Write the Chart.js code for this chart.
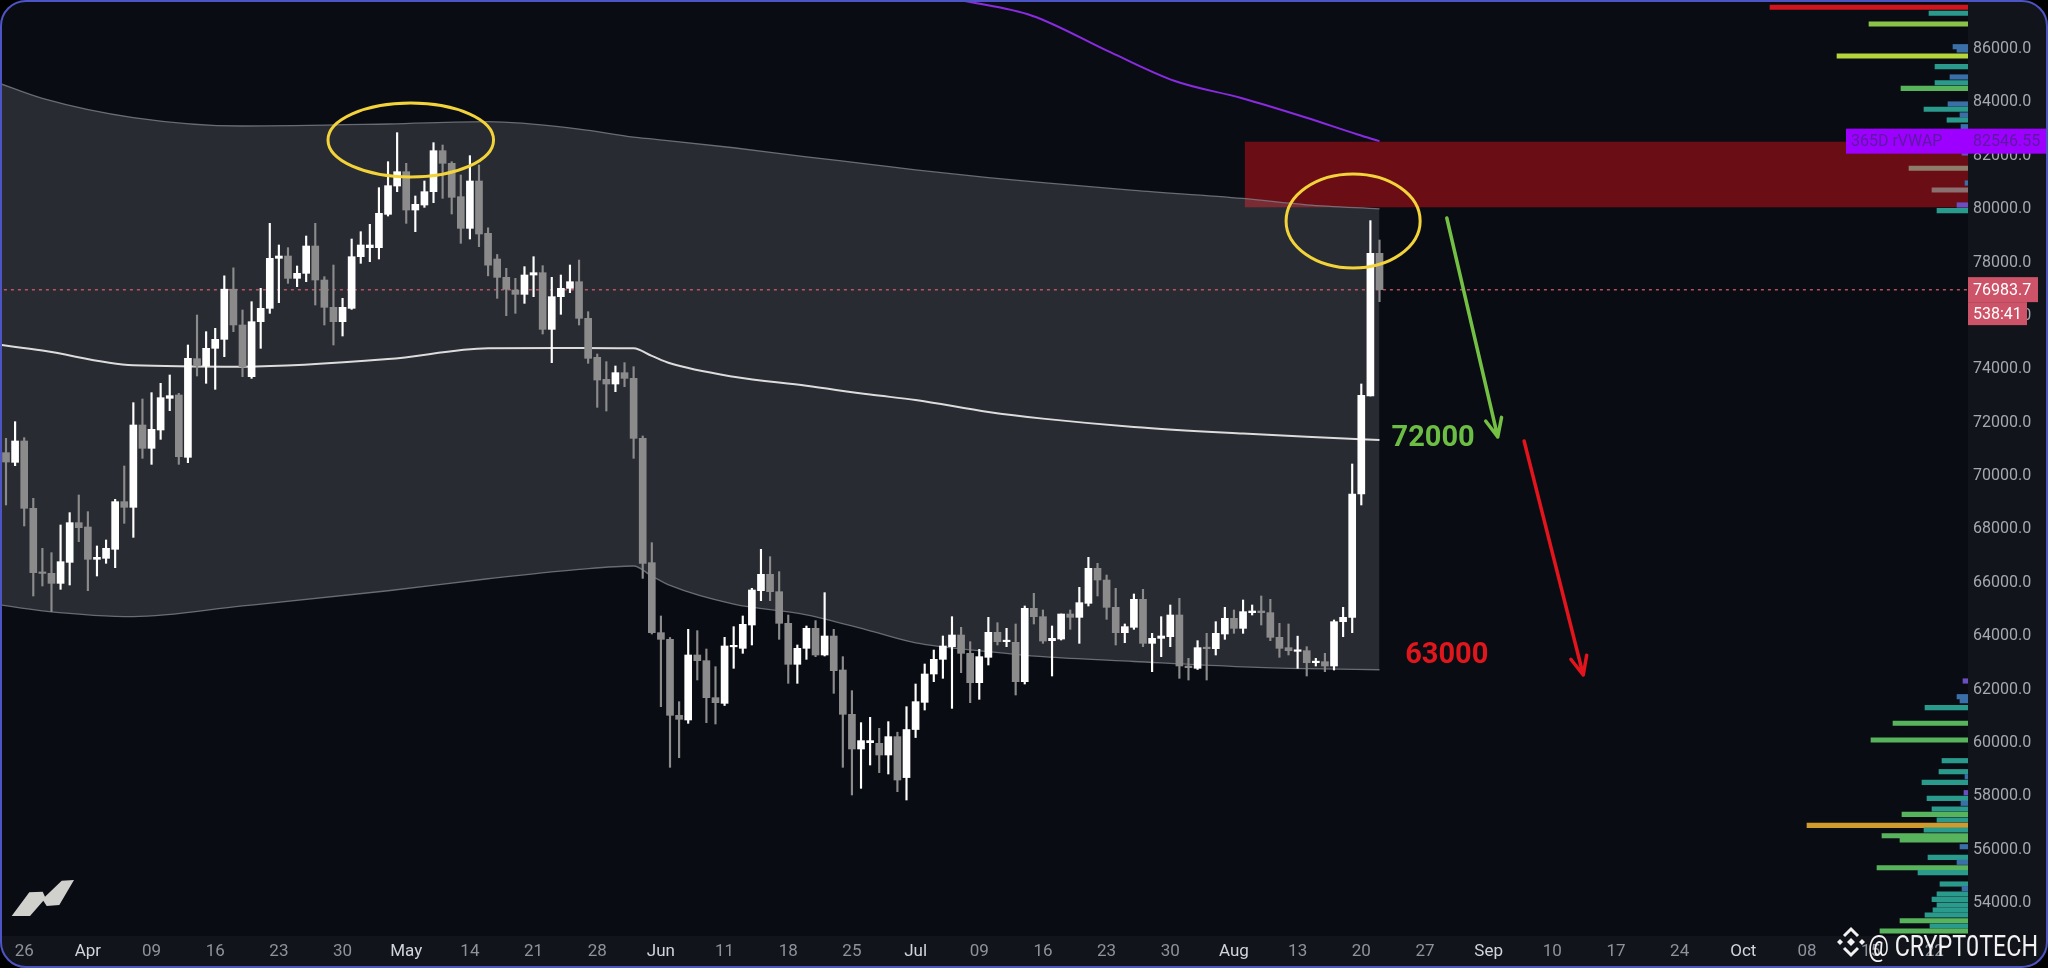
<!DOCTYPE html>
<html>
<head>
<meta charset="utf-8">
<script src="https://cdn.jsdelivr.net/npm/chart.js@4.4.1/dist/chart.umd.min.js"></script>
<style>
  html, body { margin: 0; padding: 0; background: #000; }
  .wrap { position: relative; width: 2048px; height: 968px; overflow: hidden; }
  canvas { display: block; }
  .frame {
    position: absolute; inset: 0;
    border: 2px solid #4d54c4; border-radius: 26px;
    box-shadow: 0 0 0 40px #000; pointer-events: none;
  }
</style>
</head>
<body>
<div class="wrap">
  <canvas id="chart" width="2048" height="968"></canvas>
  <div class="frame"></div>
</div>
<script>
// daily candles, index 0 = Mar 24
const opens = [
  70875, 70512, 71312, 68789, 66400, 66353, 65978, 66765, 68252, 68089,
  66878, 66915, 67253, 69039, 68826, 71911, 71037, 71724, 72910, 73035,
  70700, 74397, 74122, 74784, 75121, 77000, 75658, 73722, 75783, 76283,
  78156, 78243, 77406, 77594, 78618, 77344, 76320, 75783, 76283, 78218,
  78556, 78556, 79805, 80866, 81403, 79967, 80154, 80654, 82190, 81716,
  80467, 79280, 81054, 79093, 78131, 77444, 76969, 76807, 77531, 77619,
  75495, 76720, 77032, 77281, 75908, 74447, 73622, 73447, 73872, 73659,
  71411, 66753, 64130, 63880, 61033, 60858, 63293, 63081, 61695, 61482,
  63600, 63543, 64417, 65704, 66316, 65666, 64480, 62944, 63543, 64293,
  63293, 64005, 62731, 61070, 59771, 60009, 59983, 59546, 60234, 58700,
  60500, 61519, 62581, 63131, 63605, 64042, 63355, 62256, 63206, 64142,
  63792, 63767, 62294, 65041, 64729, 63830, 63892, 64829, 64704, 65229,
  66540, 66103, 65079, 64130, 64330, 65379, 63730, 63917, 63980, 64792,
  62881, 62794, 63568, 63530, 64080, 64667, 64292, 64880, 64942, 64880,
  63955, 63568, 63431, 63456, 63006, 63043, 62881, 64542, 64704, 69326,
  72998, 78344
]
const highs = [
  71412, 72036, 71437, 69164, 67290, 67128, 68164, 68627, 69289, 68664,
  67378, 67602, 69127, 70375, 72748, 72886, 73123, 73473, 73785, 73098,
  74909, 76033, 75408, 75533, 77500, 77800, 76220, 76532, 77032, 79467,
  78656, 78556, 77869, 78993, 79467, 77469, 77906, 76657, 78880, 79155,
  79430, 80804, 81778, 82865, 81716, 80492, 81054, 82490, 82403, 81778,
  81279, 82003, 81653, 79300, 78300, 77781, 77406, 77844, 78218, 77881,
  77444, 77531, 77906, 78093, 76157, 74571, 74284, 74122, 74247, 74097,
  71500, 67502, 64755, 63950, 61545, 64255, 64205, 63518, 62856, 63955,
  64355, 64755, 65791, 67253, 66978, 66416, 64792, 63668, 64380, 64580,
  65629, 64255, 63231, 61957, 60758, 60958, 60546, 60796, 60400, 61357,
  62206, 62956, 63480, 64005, 64729, 64330, 63792, 63505, 64704, 64504,
  64292, 64455, 65129, 65604, 64979, 64380, 64829, 64979, 65828, 66953,
  66728, 66290, 65791, 64455, 65579, 65753, 64105, 64729, 65167, 65417,
  63168, 63830, 64105, 64542, 65079, 64979, 65354, 65167, 65504, 65379,
  64480, 64455, 63999, 63605, 63168, 63356, 64605, 65079, 70450, 73448,
  79568, 78843
]
const lows = [
  68914, 70387, 68127, 65504, 65879, 64917, 65754, 65916, 67540, 65704,
  66253, 66728, 66566, 68227, 67702, 70662, 70437, 71374, 72448, 70437,
  70500, 73747, 73473, 73248, 74472, 75408, 73722, 73659, 74784, 76095,
  76495, 77219, 77094, 77282, 76407, 75658, 74909, 75246, 76245, 77969,
  78031, 78131, 79742, 80654, 79467, 79155, 80067, 80242, 80404, 79817,
  78718, 78880, 78593, 77500, 76657, 76008, 76095, 76470, 76720, 75321,
  74247, 76058, 76869, 75658, 74222, 72573, 72435, 73160, 73347, 70662,
  66165, 64080, 61357, 59084, 59446, 60733, 62357, 60758, 60708, 61400,
  62794, 63356, 63668, 65329, 65329, 63880, 62232, 62232, 63131, 63231,
  63256, 61857, 59084, 58048, 58297, 59171, 58884, 58834, 58172, 57860,
  60200, 61232, 62294, 62419, 61294, 62631, 61507, 61632, 62918, 63668,
  63605, 61794, 62206, 64455, 63730, 62506, 63855, 64255, 63730, 65129,
  65504, 64630, 63668, 63755, 64255, 63605, 62669, 63231, 63605, 62419,
  62356, 62750, 62356, 63293, 63880, 64105, 64105, 64792, 64417, 63830,
  63206, 63293, 62794, 62506, 62881, 62669, 62731, 63980, 64130, 68914,
  72998, 76533
]
const closes = [
  70525, 71312, 68789, 66378, 66350, 65978, 66790, 68252, 68064, 66878,
  66953, 67290, 69039, 68826, 71911, 71037, 71749, 72935, 73010, 70725,
  74409, 74122, 74784, 75121, 77000, 75658, 74097, 75783, 76283, 78156,
  78243, 77406, 77594, 78618, 77344, 76320, 75783, 76320, 78218, 78656,
  78656, 79842, 80879, 81403, 79967, 80179, 80654, 82190, 81716, 80442,
  79280, 81054, 79068, 77900, 77444, 76994, 76807, 77531, 77619, 75495,
  76720, 77032, 77281, 75908, 74409, 73597, 73447, 73872, 73659, 71411,
  66727, 64130, 63880, 61033, 60883, 63293, 63081, 61695, 61507, 63631,
  63631, 64442, 65729, 66316, 65666, 64480, 62944, 63543, 64293, 63293,
  64005, 62706, 61070, 59771, 60084, 60084, 59546, 60234, 58609, 60500,
  61545, 62581, 63131, 63630, 64042, 63355, 62256, 63231, 64142, 63792,
  63830, 62294, 65041, 64729, 63817, 63917, 64829, 64704, 65254, 66540,
  66103, 65079, 64130, 64355, 65379, 63730, 63917, 64005, 64792, 62881,
  62819, 63568, 63530, 64105, 64667, 64292, 64917, 64942, 64880, 63955,
  63543, 63456, 63480, 63006, 63043, 62881, 64542, 64704, 69326, 73023,
  78344, 76983.7
]

// anchored vwap band (upper / middle / lower)
const bandIdx = [-1, 4, 14, 26, 42, 53, 63, 69, 71, 73, 80, 88, 95, 100, 108, 114, 124, 136, 143, 151]
const bandUpper = [84750, 84150, 83430, 83115, 83190, 83276, 83000, 82700, 82630, 82560, 82300, 81960, 81680, 81470, 81180, 80990, 80700, 80400, 80160, 80010]
const bandMid = [74930, 74700, 74150, 74097, 74380, 74784, 74800, 74784, 74500, 74222, 73720, 73380, 73050, 72850, 72400, 72150, 71840, 71590, 71470, 71350]
const bandLower = [65190, 64950, 64730, 65130, 65700, 66150, 66500, 66627, 66250, 65900, 65200, 64800, 64200, 63750, 63420, 63230, 63050, 62850, 62780, 62740]

// 365D rVWAP
const vwapIdx = [100, 104.9, 112.8, 121.4, 128.5, 135.8, 142.9, 148.6, 151]
const vwapVal = [88200, 87836, 87248, 85880, 84801, 84164, 83433, 82796, 82546.55]

// volume profile (right side)
const vpPrices = [
  87563, 87338, 86937, 86086, 85963, 85738, 85337, 84951, 84737, 84527,
  83939, 83741, 83527, 83340, 83089, 82103, 81530, 80979, 80717, 80155,
  79941,
  62319, 61731, 61581, 61319, 60735, 60109, 59333, 58921, 58733, 58523,
  58133, 57923, 57737, 57523, 57324, 57111, 56912, 56736, 56522, 56361,
  56110, 55713, 55526, 55323, 55136, 54712, 54536, 54337, 54139, 53925,
  53738, 53551, 53337, 53138, 52951
]
const vpVolumes = [
  198, 39, 99, 15, 11, 131, 33, 18, 33, 67,
  20, 44, 8, 21, 7, 6, 59, 3, 36, 11,
  31,
  5, 11, 8, 43, 75, 97, 26, 29, 3, 46,
  4, 41, 7, 36, 66, 31, 161, 44, 86, 68,
  8, 40, 11, 91, 50, 28, 6, 31, 36, 31,
  35, 43, 68, 38, 88
]
const vpKinds = [
  'red', 'teal', 'lime', 'blue', 'blue', 'yellow', 'teal', 'blue', 'teal', 'green',
  'blue', 'teal', 'blue', 'teal', 'blue', 'purple', 'tan', 'blue', 'rose', 'purple',
  'teal',
  'purple', 'blue', 'blue', 'teal', 'green', 'green', 'teal', 'teal', 'blue', 'teal',
  'purple', 'teal', 'blue', 'teal', 'green', 'teal', 'gold', 'teal', 'green', 'green',
  'blue', 'teal', 'blue', 'green', 'teal', 'teal', 'blue', 'teal', 'teal', 'teal',
  'teal', 'teal', 'green', 'teal', 'green'
]

// price axis
const priceTicks = [54000, 56000, 58000, 60000, 62000, 64000, 66000, 68000, 70000, 72000, 74000, 76000, 78000, 80000, 82000, 84000, 86000]

// time axis (Mondays)
const tickIdx = [2, 9, 16, 23, 30, 37, 44, 51, 58, 65, 72, 79, 86, 93, 100, 107, 114, 121, 128, 135, 142, 149, 156, 163, 170, 177, 184, 191, 198, 205, 212]
const tickLabels = ['26', 'Apr', '09', '16', '23', '30', 'May', '14', '21', '28', 'Jun', '11', '18', '25', 'Jul', '09', '16', '23', '30', 'Aug', '13', '20', '27', 'Sep', '10', '17', '24', 'Oct', '08', '15', '22']
const monthLabels = ['Apr', 'May', 'Jun', 'Jul', 'Aug', 'Sep', 'Oct']

// drawings
const zoneFrom = 136.2
const zoneTop = 82527
const zoneBottom = 80069
const circles = [
  { x: 44.5, y: 82590, rx: 9.1, ry: 1386 },
  { x: 148.1, y: 79555, rx: 7.37, ry: 1761 }
]
const greenArrow = [[158.4, 79668], [164.0, 71462]]
const redArrow = [[166.9, 71312], [173.4, 62544]]
const targets = [
  { text: '72000', x: 156.9, y: 71387, color: '#6cbd44' },
  { text: '63000', x: 158.4, y: 63256, color: '#e0161d' }
]
const countdown = '538:41'

const upColor = '#ffffff'
const downColor = '#8b8b8b'
const vpColors = {
  red: '#d0161c', teal: '#2a9a8c', green: '#58b45c', lime: '#8bc34a', yellow: '#b5d63d',
  blue: '#3b6fa8', purple: '#6b4fc0', tan: '#8d7d6b', rose: '#8a7070', gold: '#d09a2c'
}

const candleColor = ctx => closes[ctx.dataIndex] >= opens[ctx.dataIndex] ? upColor : downColor

const bgPlugin = {
  id: 'bg',
  beforeDraw(chart) {
    const { ctx, chartArea: a, width, height } = chart
    ctx.save()
    ctx.fillStyle = '#12141b'
    ctx.fillRect(0, 0, width, height)
    ctx.fillStyle = '#0a0c13'
    ctx.fillRect(a.left, a.top, a.right - a.left, a.bottom - a.top)
    ctx.restore()
  },
  beforeDatasetsDraw(chart) {
    const { ctx, chartArea: a, scales: { x, y } } = chart
    const left = x.getPixelForValue(zoneFrom)
    const top = y.getPixelForValue(zoneTop)
    const bottom = y.getPixelForValue(zoneBottom)
    ctx.save()
    ctx.fillStyle = 'rgba(178, 14, 20, 0.58)'
    ctx.fillRect(left, top, a.right - left, bottom - top)
    ctx.restore()
  }
}

const drawArrow = (ctx, x1, y1, x2, y2, color) => {
  const ang = Math.atan2(y2 - y1, x2 - x1)
  const head = 20
  ctx.strokeStyle = color
  ctx.lineWidth = 3.5
  ctx.lineCap = 'round'
  ctx.lineJoin = 'round'
  ctx.beginPath()
  ctx.moveTo(x1, y1)
  ctx.lineTo(x2, y2)
  ctx.moveTo(x2 - head * Math.cos(ang - 0.42), y2 - head * Math.sin(ang - 0.42))
  ctx.lineTo(x2, y2)
  ctx.lineTo(x2 - head * Math.cos(ang + 0.42), y2 - head * Math.sin(ang + 0.42))
  ctx.stroke()
}

const drawingsPlugin = {
  id: 'drawings',
  afterDatasetsDraw(chart) {
    const { ctx, scales: { x, y } } = chart
    ctx.save()
    ctx.strokeStyle = '#f3d33a'
    ctx.lineWidth = 3
    circles.forEach(c => {
      const cx = x.getPixelForValue(c.x)
      const cy = y.getPixelForValue(c.y)
      const rx = x.getPixelForValue(c.x + c.rx) - cx
      const ry = cy - y.getPixelForValue(c.y + c.ry)
      ctx.beginPath()
      ctx.ellipse(cx, cy, rx, ry, 0, 0, Math.PI * 2)
      ctx.stroke()
    })
    const px = p => [x.getPixelForValue(p[0]), y.getPixelForValue(p[1])]
    drawArrow(ctx, ...px(greenArrow[0]), ...px(greenArrow[1]), '#74c044')
    drawArrow(ctx, ...px(redArrow[0]), ...px(redArrow[1]), '#e3141c')
    ctx.font = 'bold 29px Roboto'
    ctx.textAlign = 'center'
    ctx.textBaseline = 'middle'
    targets.forEach(t => {
      ctx.fillStyle = t.color
      ctx.fillText(t.text, x.getPixelForValue(t.x), y.getPixelForValue(t.y))
    })
    ctx.restore()
  }
}

const box = (ctx, x, yc, w, h, bg, text, color) => {
  ctx.fillStyle = bg
  ctx.fillRect(x, yc - h / 2, w, h)
  ctx.fillStyle = color
  ctx.textAlign = 'left'
  ctx.textBaseline = 'middle'
  ctx.fillText(text, x + 5, yc + 1)
}

const labelsPlugin = {
  id: 'labels',
  afterDraw(chart) {
    const { ctx, chartArea: a, scales: { y } } = chart
    ctx.save()
    ctx.font = '16px Roboto'
    // rVWAP label
    const vy = y.getPixelForValue(vwapVal[vwapVal.length - 1])
    box(ctx, a.right - 122, vy, 122, 25, '#9d00ff', '365D rVWAP', '#5b1aa0')
    box(ctx, a.right, vy, 78, 25, '#9d00ff', vwapVal[vwapVal.length - 1].toFixed(2), '#5b1aa0')
    // last price + countdown
    const last = closes[closes.length - 1]
    const ly = y.getPixelForValue(last)
    box(ctx, a.right, ly + 24, 59, 23, '#cd5468', countdown, '#ffffff')
    box(ctx, a.right, ly, 70, 25, '#cd5468', last.toFixed(1), '#ffffff')

    // logo bottom-left
    ctx.fillStyle = '#d0d0cc'
    ctx.beginPath()
    const logo = [[11.7, 916], [29.3, 892.3], [42.7, 891.7], [45, 896.7], [61.7, 880.7], [74, 880], [59.3, 905], [46.7, 906], [43.3, 900.7], [30, 916]]
    logo.forEach((p, i) => (i ? ctx.lineTo(p[0], p[1]) : ctx.moveTo(p[0], p[1])))
    ctx.closePath()
    ctx.fill()

    // watermark
    const dia = (cx, cy, r) => {
      ctx.beginPath()
      ctx.moveTo(cx, cy - r)
      ctx.lineTo(cx + r, cy)
      ctx.lineTo(cx, cy + r)
      ctx.lineTo(cx - r, cy)
      ctx.closePath()
      ctx.fill()
    }
    ctx.fillStyle = '#f2f2f2'
    dia(1851, 942, 4)
    dia(1840, 942, 3)
    dia(1862, 942, 3)
    ctx.strokeStyle = '#f2f2f2'
    ctx.lineWidth = 3
    ctx.beginPath()
    ctx.moveTo(1844, 936); ctx.lineTo(1851, 929); ctx.lineTo(1858, 936)
    ctx.moveTo(1844, 948); ctx.lineTo(1851, 955); ctx.lineTo(1858, 948)
    ctx.stroke()
    ctx.font = '30px Roboto'
    ctx.textAlign = 'left'
    ctx.textBaseline = 'alphabetic'
    const wm = '@ CRYPT0TECH'
    const w = ctx.measureText(wm).width
    ctx.translate(1868, 956)
    ctx.scale(170 / w, 1)
    ctx.fillStyle = '#f2f2f2'
    ctx.fillText(wm, 0, 0)
    ctx.restore()
  }
}

const pts = (xs, ys) => xs.map((v, i) => ({ x: v, y: ys[i] }))
const lastIdx = closes.length - 1

const chart = new Chart(document.getElementById('chart'), {
  type: 'bar',
  data: {
    datasets: [
      {
        type: 'line',
        data: pts(bandIdx, bandUpper),
        borderColor: 'rgba(125, 128, 138, 0.8)',
        borderWidth: 1.3,
        backgroundColor: 'rgba(200, 203, 212, 0.165)',
        fill: 1,
        pointRadius: 0,
        cubicInterpolationMode: 'monotone',
        order: 10
      },
      {
        type: 'line',
        data: pts(bandIdx, bandLower),
        borderColor: 'rgba(125, 128, 138, 0.8)',
        borderWidth: 1.3,
        fill: false,
        pointRadius: 0,
        cubicInterpolationMode: 'monotone',
        order: 9
      },
      {
        type: 'line',
        data: pts(bandIdx, bandMid),
        borderColor: '#dcdcdc',
        borderWidth: 2,
        fill: false,
        pointRadius: 0,
        cubicInterpolationMode: 'monotone',
        order: 8
      },
      {
        type: 'line',
        data: pts(vwapIdx, vwapVal),
        borderColor: '#8a2be2',
        borderWidth: 2,
        fill: false,
        pointRadius: 0,
        cubicInterpolationMode: 'monotone',
        order: 7
      },
      {
        type: 'line',
        data: [{ x: -1, y: closes[lastIdx] }, { x: 216, y: closes[lastIdx] }],
        borderColor: 'rgba(214, 92, 108, 0.85)',
        borderWidth: 1.5,
        borderDash: [3, 4],
        fill: false,
        pointRadius: 0,
        order: 6
      },
      {
        data: lows.map((l, i) => ({ x: i, y: [l, highs[i]] })),
        backgroundColor: candleColor,
        barThickness: 1.5,
        grouped: false,
        order: 3
      },
      {
        data: opens.map((o, i) => ({ x: i, y: [o, closes[i]] })),
        backgroundColor: candleColor,
        barThickness: 7,
        minBarLength: 1.5,
        grouped: false,
        order: 2
      },
      {
        indexAxis: 'y',
        xAxisID: 'vp',
        yAxisID: 'y',
        data: vpPrices.map((p, i) => ({ x: vpVolumes[i], y: p })),
        backgroundColor: vpKinds.map(k => vpColors[k]),
        barThickness: 4.5,
        grouped: false,
        order: 1
      }
    ]
  },
  options: {
    responsive: false,
    animation: false,
    devicePixelRatio: 1,
    layout: { padding: 0 },
    plugins: { legend: { display: false }, tooltip: { enabled: false } },
    scales: {
      x: {
        type: 'linear',
        min: -0.66,
        max: 215.7,
        offset: false,
        grid: { display: false, drawTicks: false, offset: false },
        border: { display: false },
        afterBuildTicks: scale => {
          scale.ticks = tickIdx.map(v => ({ value: v }))
        },
        afterFit: scale => {
          scale.height = 32
          scale.paddingLeft = 0
          scale.paddingRight = 0
        },
        ticks: {
          autoSkip: false,
          maxRotation: 0,
          padding: 6,
          font: { family: 'Roboto', size: 17 },
          color: ctx => monthLabels.includes(tickLabels[ctx.index]) ? '#d1d4dc' : '#8f929b',
          callback: (value, index) => tickLabels[index]
        }
      },
      y: {
        type: 'linear',
        position: 'right',
        min: 52764,
        max: 87836,
        offset: false,
        grid: { display: false, drawTicks: false, offset: false },
        border: { display: false },
        afterBuildTicks: scale => {
          scale.ticks = priceTicks.map(v => ({ value: v }))
        },
        afterFit: scale => {
          scale.width = 80
          scale.paddingTop = 0
          scale.paddingBottom = 0
        },
        ticks: {
          autoSkip: false,
          padding: 5,
          font: { family: 'Roboto', size: 16 },
          color: '#a6a9b1',
          callback: value => value.toFixed(1)
        }
      },
      vp: {
        type: 'linear',
        axis: 'x',
        position: 'top',
        display: false,
        reverse: true,
        min: 0,
        max: 1968,
        offset: false,
        grid: { display: false }
      }
    }
  },
  plugins: [bgPlugin, drawingsPlugin, labelsPlugin]
})
</script>
</body>
</html>
